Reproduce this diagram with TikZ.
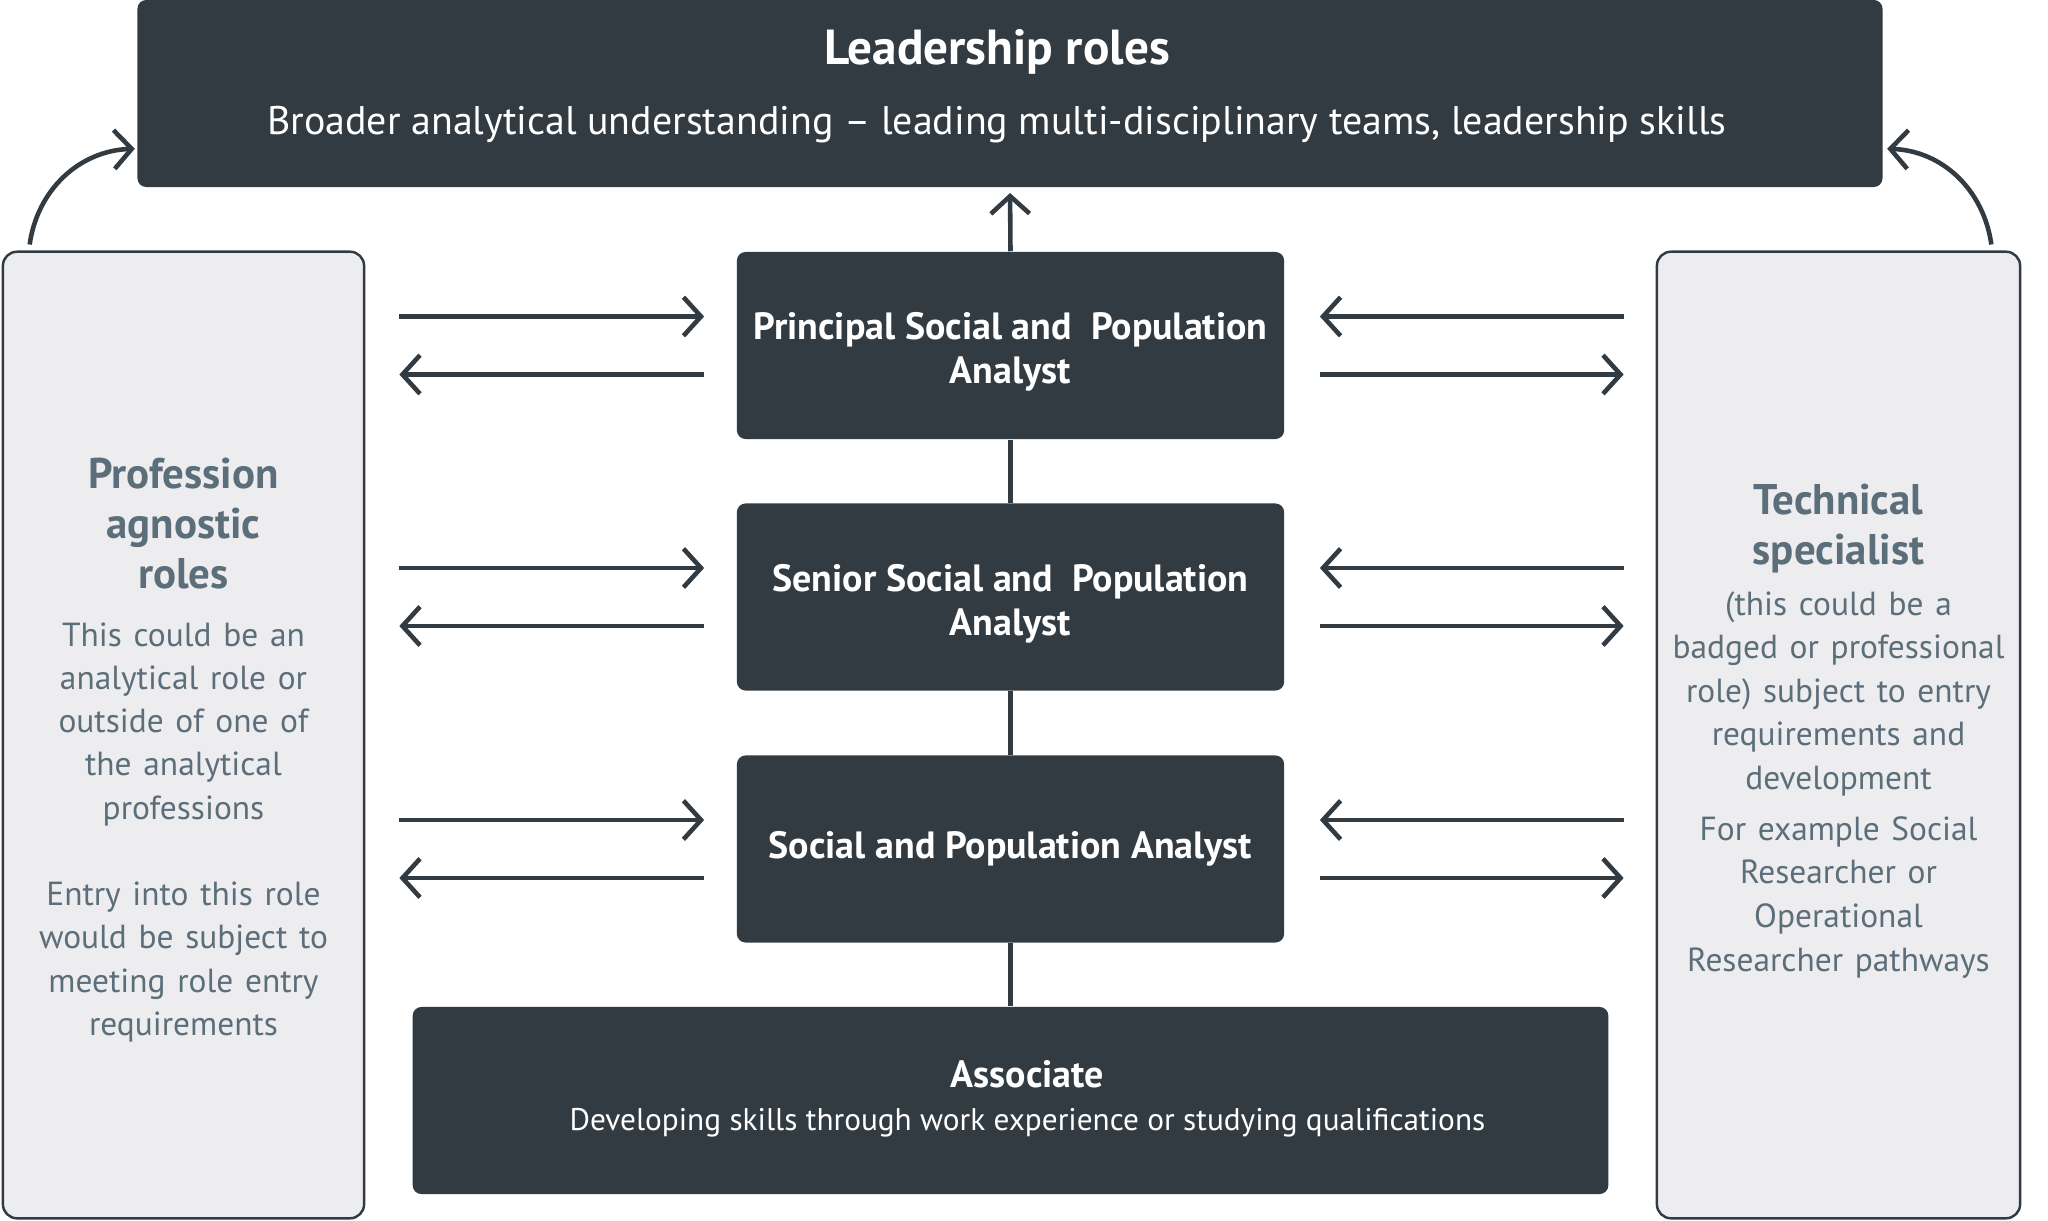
\documentclass[tikz,border=0pt]{standalone}
\usepackage{fontspec}
\setmainfont{PT Sans}
\usepackage{tikz}
\usetikzlibrary{arrows.meta,calc}
\usepackage{xcolor}
\definecolor{slate}{HTML}{323B42}
\definecolor{panel}{HTML}{EDEDF0}
\definecolor{sidefg}{HTML}{5B6E7A}

\begin{document}
\begin{tikzpicture}[x=0.01cm, y=0.01cm,
  darkbox/.style={fill=slate, rounded corners=2.5pt, text=white, align=center, inner sep=0pt},
  sidebox/.style={draw=slate, line width=0.7pt, fill=panel, rounded corners=4pt, inner sep=0pt},
  sidetext/.style={text=sidefg, text width=3.5cm, align=center, inner sep=0pt},
  flow/.style={line width=1.3pt, draw=slate, -{Straight Barb[length=5pt, width=11pt]}},
  link/.style={line width=1.3pt, draw=slate}]
  \useasboundingbox (0,0) rectangle (2048,1220);

  % --- leadership box ---
  \node[darkbox, minimum width=17.44cm, minimum height=1.87cm] (lead) at (1010,1126.5) {};
  \node[text=white, align=center, inner sep=0pt] (leadtext) at (997,1134)
    {{\bfseries\fontsize{14}{16}\selectfont Leadership roles}\\[8pt]
     {\fontsize{11.35}{13}\selectfont Broader analytical understanding -- leading multi-disciplinary teams, leadership skills}};

  % --- side panels ---
  \node[sidebox, minimum width=3.61cm, minimum height=9.66cm] (agnostic) at (183.5,485) {};
  \node[sidebox, minimum width=3.63cm, minimum height=9.66cm] (technical) at (1838.5,485) {};

  \node[sidetext] (agnostictext) at (183.5,470)
    {{\bfseries\fontsize{12.2}{14.2}\selectfont Profession\\ agnostic\\ roles\par}
     \vspace{4.1pt}
     {\fontsize{9.5}{12.3}\selectfont This could be an\\ analytical role or\\ outside of one of\\ the analytical\\ professions\par
     \vspace{12.3pt}
     Entry into this role\\ would be subject to\\ meeting role entry\\ requirements\par}};
  \node[sidetext] (technicaltext) at (1838.5,489)
    {{\bfseries\fontsize{12.2}{14.2}\selectfont Technical\\ specialist\par}
     \vspace{2pt}
     {\fontsize{9.5}{12.4}\selectfont (this could be a\\ badged or professional\\ role) subject to entry\\ requirements and\\ development\par
     \vspace{2pt}
     For example Social\\ Researcher or\\ Operational\\ Researcher pathways\par}};

  % --- analyst grades ---
  \tikzset{grade/.style={darkbox, minimum width=5.47cm, minimum height=1.87cm,
    font=\bfseries\fontsize{10.8}{12.6}\selectfont}}
  \node[grade, text height=24pt] (princ) at (1010.5,874.5) {Principal Social and~~Population\\ Analyst};
  \node[grade, text height=24pt] (senior) at (1010.5,623) {Senior Social and~~Population\\ Analyst};
  \node[grade] (analyst) at (1010.5,371) {Social and Population Analyst};

  \node[darkbox, minimum width=11.95cm, minimum height=1.87cm] (assoc) at (1010.5,119.5) {};
  \node[text=white, align=center, inner sep=0pt, font=\fontsize{8.9}{12.2}\selectfont]
    (assoctext) at (1027.5,121)
    {{\bfseries\fontsize{10.8}{12.2}\selectfont Associate}\\ Developing skills through work experience or studying qualifications};

  % --- vertical spine ---
  \draw[flow, shorten >=1.5pt] (princ.north) -- (lead.south);
  \draw[link] (princ.south) -- (senior.north);
  \draw[link] (senior.south) -- (analyst.north);
  \draw[link] (analyst.south) -- (assoc.north);

  % --- two-way moves to and from the side panels ---
  \foreach \row in {princ,senior,analyst} {
    \draw[flow, shorten <=0.34cm, shorten >=0.32cm]
      ($(agnostic.east |- \row.west)+(0,29)$) -- ($(\row.west)+(0,29)$);
    \draw[flow, shorten <=0.32cm, shorten >=0.34cm]
      ($(\row.west)+(0,-29)$) -- ($(agnostic.east |- \row.west)+(0,-29)$);
    \draw[flow, shorten <=0.32cm, shorten >=0.35cm]
      ($(technical.west |- \row.east)+(0,29)$) -- ($(\row.east)+(0,29)$);
    \draw[flow, shorten <=0.35cm, shorten >=0.32cm]
      ($(\row.east)+(0,-29)$) -- ($(technical.west |- \row.east)+(0,-29)$);
  }

  % --- routes into leadership ---
  \draw[flow] ($(agnostic.north west)+(28,6)$) to[out=82, in=182] ($(lead.south west)+(-2,39)$);
  \draw[flow] ($(technical.north east)+(-30,6)$) to[out=98, in=-2] ($(lead.south east)+(4,39)$);
\end{tikzpicture}
\end{document}
